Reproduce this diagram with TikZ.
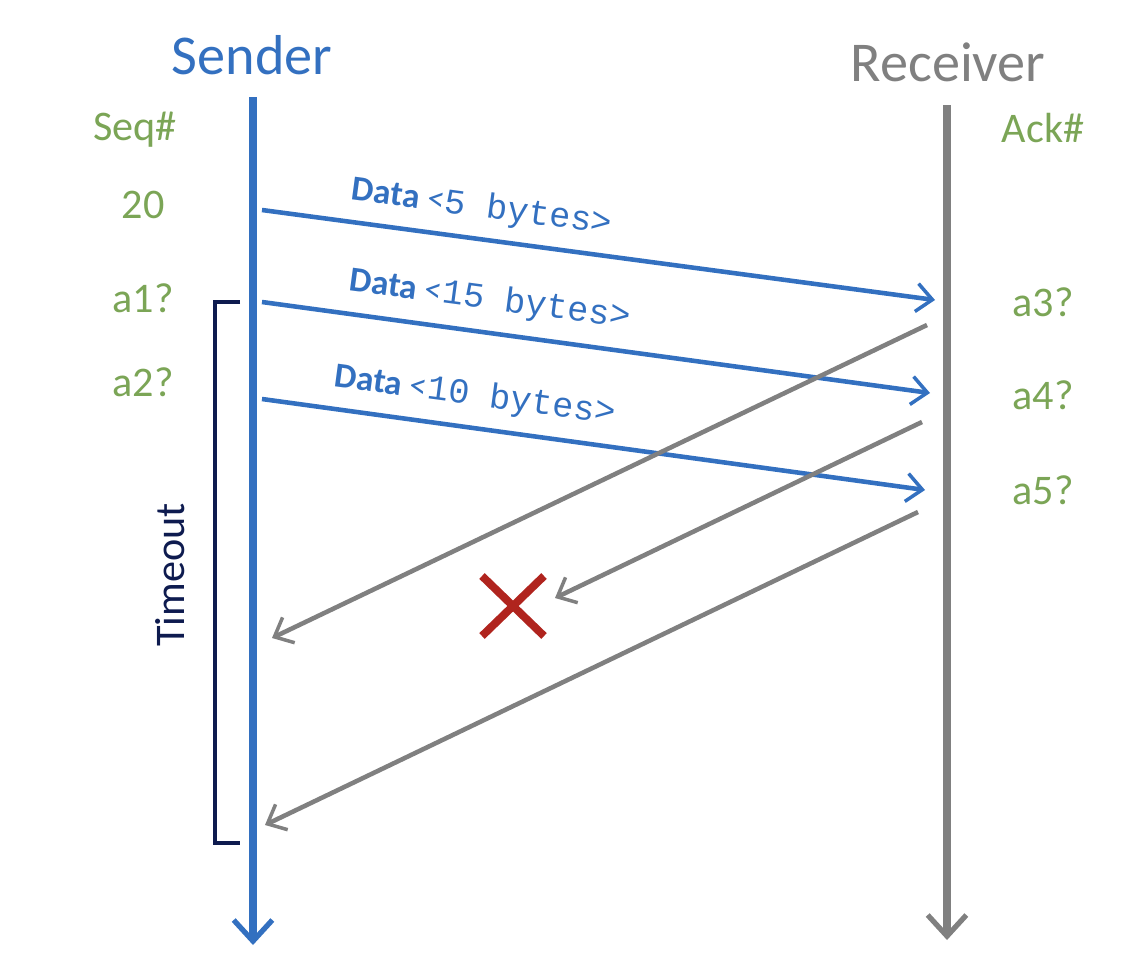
\documentclass[tikz,border=0pt]{standalone}
\usepackage{fontspec}
\setmainfont{Carlito}
\newfontfamily\monof{Liberation Mono}
\usetikzlibrary{arrows.meta}
\definecolor{cblue}{HTML}{3370C0}
\definecolor{cgray}{HTML}{808080}
\definecolor{cgreen}{HTML}{7BA556}
\definecolor{cred}{HTML}{B0241E}
\definecolor{cnavy}{HTML}{0E1B4F}
\begin{document}
\begin{tikzpicture}[x=0.02cm,y=-0.02cm,
  life/.style={line width=4.5pt,-{Straight Barb[length=12pt,width=22pt,line width=3pt]}},
  msg/.style={line width=2.6pt,-{Straight Barb[length=9pt,width=16pt,line width=2pt]}},
  lbl/.style={text=cgreen,font=\fontsize{24}{24}\selectfont},
  dlbl/.style={text=cblue,font=\fontsize{20}{20}\selectfont,rotate=-7.6,inner sep=0pt}]
\useasboundingbox (0,0) rectangle (1132,960);
\node[text=cblue,font=\fontsize{32}{32}\selectfont] (snd) at (252,55) {Sender};
\node[text=cgray,font=\fontsize{32}{32}\selectfont] (rcv) at (948,62) {Receiver};
\coordinate (s0) at (253,97); \coordinate (s1) at (253,945);
\coordinate (r0) at (947,105); \coordinate (r1) at (947,940);
\draw[life,cblue] (s0) -- (s1);
\draw[life,cgray] (r0) -- (r1);
\node[lbl] (seq) at (135,130) {Seq\#};
\node[lbl] (v20) at (143,205) {20};
\node[lbl] (a1) at (143,298) {a1?};
\node[lbl] (a2) at (143,382) {a2?};
\node[lbl] (ack) at (1043,128) {Ack\#};
\node[lbl] (a3) at (1043,302) {a3?};
\node[lbl] (a4) at (1043,395) {a4?};
\node[lbl] (a5) at (1043,490) {a5?};
\coordinate (d1a) at (262,210); \coordinate (d1b) at (935,300);
\coordinate (d2a) at (262,302); \coordinate (d2b) at (930,393);
\coordinate (d3a) at (262,399); \coordinate (d3b) at (925,490);
\draw[msg,cblue] (d1a) -- (d1b);
\draw[msg,cblue] (d2a) -- (d2b);
\draw[msg,cblue] (d3a) -- (d3b);
\node[dlbl] (l1) at (482,208) {\textbf{Data} <{\monof 5 bytes>}};
\node[dlbl] (l2) at (490,300) {\textbf{Data} <{\monof 15 bytes>}};
\node[dlbl] (l3) at (475,396) {\textbf{Data} <{\monof 10 bytes>}};
\coordinate (k1a) at (927,325); \coordinate (k1b) at (272,638);
\coordinate (k2a) at (922,422); \coordinate (k2b) at (555,598);
\coordinate (k3a) at (918,512); \coordinate (k3b) at (265,825);
\draw[msg,cgray] (k1a) -- (k1b);
\draw[msg,cgray] (k2a) -- (k2b);
\draw[msg,cgray] (k3a) -- (k3b);
\draw[cred,line width=4.5pt] (482,576) -- (544,636) (482,636) -- (544,576);
\draw[cnavy,line width=1.8pt] (240,302) -- (215,302) -- (215,843) -- (240,843);
\node[text=cnavy,rotate=90,font=\fontsize{24}{24}\selectfont] (to) at (170,575) {Timeout};
\end{tikzpicture}
\end{document}
